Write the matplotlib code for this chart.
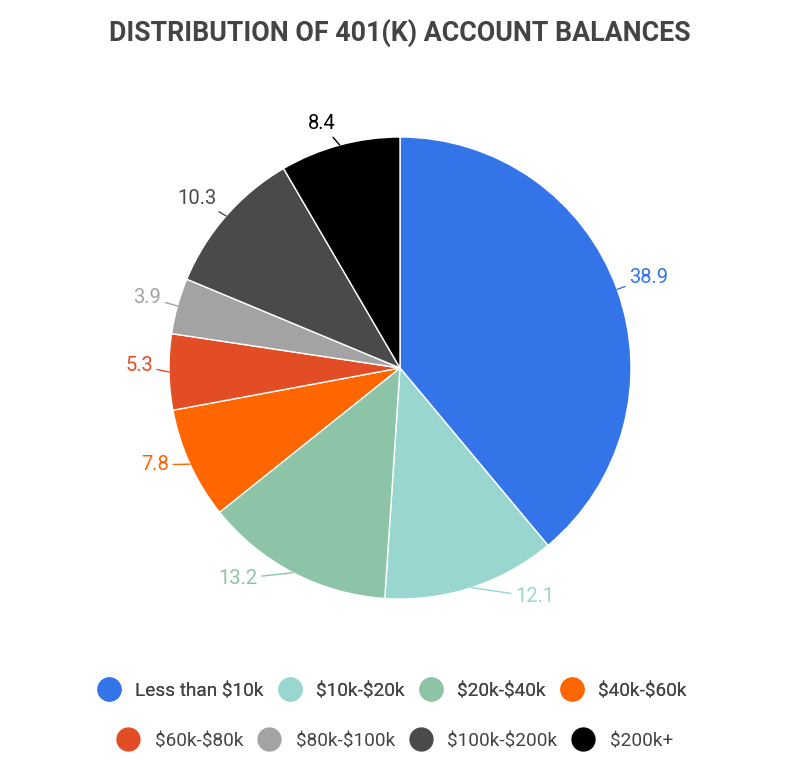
import numpy as np
import matplotlib.pyplot as plt

# data
categories = ["Less than $10k", "$10k-$20k", "$20k-$40k", "$40k-$60k",
              "$60k-$80k", "$80k-$100k", "$100k-$200k", "$200k+"]
values = [38.9, 12.1, 13.2, 7.8, 5.3, 3.9, 10.3, 8.4]
colors = ["#3375E9", "#99D6D0", "#8DC4A7", "#FF6600",
          "#E34D26", "#A3A3A3", "#4A4A4A", "#000000"]
# small angle nudges (deg) and radii for the value labels
nudge = [0, 12.5, -10, -3, -1.5, 0, 1.4, 2.7]
lab_r = [1.145, 1.15, 1.15, 1.14, 1.13, 1.135, 1.145, 1.11]

plt.rcParams['font.family'] = ['Roboto', 'DejaVu Sans']

fig = plt.figure(figsize=(8, 7.79), dpi=100)
fig.patch.set_facecolor('white')

ax = fig.add_axes([169/800, 180/779, 462/800, 462/779])
wedges, _ = ax.pie(values, colors=colors, startangle=90, counterclock=False,
                   radius=1, wedgeprops=dict(edgecolor='white', linewidth=1))
ax.set_xlim(-1, 1)
ax.set_ylim(-1, 1)
ax.set_aspect('equal')
ax.axis('off')

for i, w in enumerate(wedges):
    mid = np.deg2rad((w.theta1 + w.theta2) / 2)
    t = mid + np.deg2rad(nudge[i])
    px, py = np.cos(mid), np.sin(mid)
    tx, ty = lab_r[i] * np.cos(t), lab_r[i] * np.sin(t)
    ax.annotate(f"{values[i]}", xy=(px, py), xytext=(tx, ty),
                ha='center', va='center', fontsize=14.5, color=colors[i],
                annotation_clip=False,
                arrowprops=dict(arrowstyle='-', color=colors[i], lw=1,
                                shrinkA=1, shrinkB=0))

fig.text(0.5, 1 - 33/779, "DISTRIBUTION OF 401(K) ACCOUNT BALANCES",
         ha='center', va='center', fontsize=19.3, fontweight='bold',
         color='#444444')

handles = [plt.Line2D([], [], marker='o', linestyle='', markersize=16.5,
                      markerfacecolor=c, markeredgecolor=c) for c in colors]
labels = [c.replace('$', r'\$') for c in categories]
leg_kw = dict(loc='center', ncol=4, frameon=False, fontsize=13.7,
              handlelength=1.2, handletextpad=0.8, columnspacing=0.75,
              labelcolor='#444444')
leg1 = fig.legend(handles[:4], labels[:4],
                  bbox_to_anchor=(392/800, 1 - 691/779), **leg_kw)
fig.add_artist(leg1)
fig.legend(handles[4:], labels[4:],
           bbox_to_anchor=(395/800, 1 - 741/779), **leg_kw)

fig.savefig('out.png', dpi=100, facecolor='white')
